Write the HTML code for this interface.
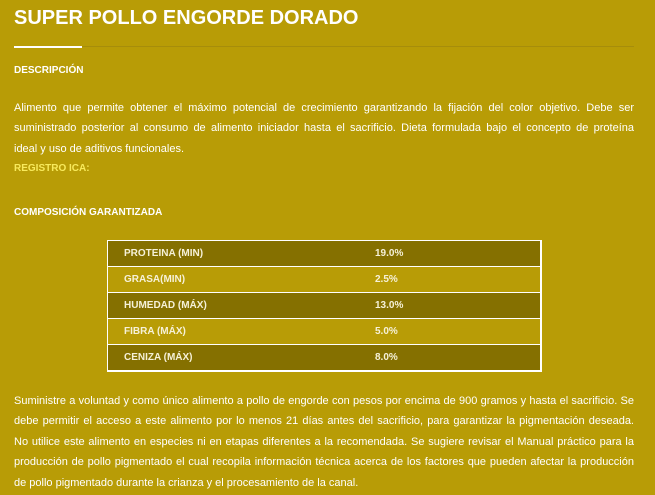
<!DOCTYPE html>
<html>
<head>
<meta charset="utf-8">
<style>
  html,body{margin:0;padding:0;}
  body{width:655px;height:495px;background:#b89c06;position:relative;overflow:hidden;
       font-family:"Liberation Sans",Arial,sans-serif;color:#fff;}
  .abs{position:absolute;}
  .title{left:14px;top:8px;font-size:20px;line-height:20px;font-weight:bold;white-space:nowrap;}
  .wline{left:14px;top:46px;width:68px;height:2px;background:#fff;}
  .tline{left:82px;top:46px;width:552px;height:1px;background:#a68d0b;}
  .h{font-size:10px;line-height:14px;font-weight:bold;white-space:nowrap;left:14px;}
  .para{left:14px;width:620px;font-size:11px;}
  .para div{height:20.4px;line-height:20.4px;white-space:nowrap;text-align:justify;text-align-last:justify;}
  .para div.last{text-align:left;text-align-last:left;}
  .tbl{left:107px;top:240px;width:435px;height:132px;background:#fff;}
  .row{position:absolute;left:108px;width:432px;height:25px;font-size:10px;line-height:26px;color:#f6f1d8;font-weight:bold;}
  .row .c1{position:absolute;left:16px;top:0;white-space:nowrap;}
  .row .c2{position:absolute;left:267px;top:0;white-space:nowrap;}
  .dark{background:#857000;}
  .lite{background:#b89c06;}
</style>
</head>
<body>
  <div class="abs title">SUPER POLLO ENGORDE DORADO</div>
  <div class="abs tline"></div>
  <div class="abs wline"></div>

  <div class="abs h" style="top:64px;">DESCRIPCIÓN</div>

  <div class="abs para" style="top:98px;">
    <div>Alimento que permite obtener el máximo potencial de crecimiento garantizando la fijación del color objetivo. Debe ser</div>
    <div>suministrado posterior al consumo de alimento iniciador hasta el sacrificio. Dieta formulada bajo el concepto de proteína</div>
    <div class="last">ideal y uso de aditivos funcionales.</div>
  </div>

  <div class="abs h" style="top:162px;color:#f8ea5c;">REGISTRO ICA:</div>

  <div class="abs h" style="top:206px;">COMPOSICIÓN GARANTIZADA</div>

  <div class="abs tbl"></div>
  <div class="row dark" style="top:241px;"><span class="c1">PROTEINA (MIN)</span><span class="c2">19.0%</span></div>
  <div class="row lite" style="top:267px;"><span class="c1">GRASA(MIN)</span><span class="c2">2.5%</span></div>
  <div class="row dark" style="top:293px;"><span class="c1">HUMEDAD (MÁX)</span><span class="c2">13.0%</span></div>
  <div class="row lite" style="top:319px;"><span class="c1">FIBRA (MÁX)</span><span class="c2">5.0%</span></div>
  <div class="row dark" style="top:345px;"><span class="c1">CENIZA (MÁX)</span><span class="c2">8.0%</span></div>

  <div class="abs para" style="top:391px;">
    <div>Suministre a voluntad y como único alimento a pollo de engorde con pesos por encima de 900 gramos y hasta el sacrificio. Se</div>
    <div>debe permitir el acceso a este alimento por lo menos 21 días antes del sacrificio, para garantizar la pigmentación deseada.</div>
    <div>No utilice este alimento en especies ni en etapas diferentes a la recomendada. Se sugiere revisar el Manual práctico para la</div>
    <div>producción de pollo pigmentado el cual recopila información técnica acerca de los factores que pueden afectar la producción</div>
    <div class="last">de pollo pigmentado durante la crianza y el procesamiento de la canal.</div>
  </div>
</body>
</html>
